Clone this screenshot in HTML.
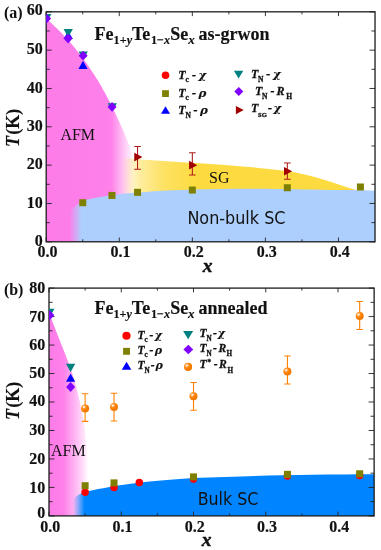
<!DOCTYPE html>
<html lang="en">
<head>
<meta charset="utf-8">
<title>Phase diagrams Fe1+yTe1-xSex</title>
<style>
html,body{margin:0;padding:0;background:#fff;}
body{width:381px;height:550px;overflow:hidden;}
svg{display:block;}
text{white-space:pre;}
</style>
</head>
<body>
<svg width="381" height="550" viewBox="0 0 381 550">
<rect width="381" height="550" fill="#fff"/>
<defs>
<linearGradient id="pinkA" gradientUnits="userSpaceOnUse" x1="46" y1="0" x2="134" y2="0">
<stop offset="0" stop-color="#fd7ce8"/><stop offset="0.74" stop-color="#fe80e9"/><stop offset="0.87" stop-color="#fe80e9" stop-opacity="0.5"/><stop offset="1" stop-color="#fe80e9" stop-opacity="0"/>
</linearGradient>
<linearGradient id="blueA" gradientUnits="userSpaceOnUse" x1="69.5" y1="0" x2="81.5" y2="0">
<stop offset="0" stop-color="#adcffd" stop-opacity="0"/><stop offset="1" stop-color="#adcffd"/>
</linearGradient>
<linearGradient id="yelA" gradientUnits="userSpaceOnUse" x1="120" y1="0" x2="200" y2="0">
<stop offset="0.02" stop-color="#fddb40" stop-opacity="0"/><stop offset="0.25" stop-color="#fddb40" stop-opacity="0.5"/><stop offset="0.55" stop-color="#fddb40" stop-opacity="0.82"/><stop offset="0.95" stop-color="#fddb40"/>
</linearGradient>
<linearGradient id="pinkB" gradientUnits="userSpaceOnUse" x1="49" y1="0" x2="89" y2="0">
<stop offset="0" stop-color="#fd7ce8"/><stop offset="0.36" stop-color="#fe80e9"/><stop offset="0.7" stop-color="#fe80e9" stop-opacity="0.5"/><stop offset="1" stop-color="#fe80e9" stop-opacity="0"/>
</linearGradient>
<linearGradient id="blueB" gradientUnits="userSpaceOnUse" x1="73" y1="0" x2="84.5" y2="0">
<stop offset="0" stop-color="#0084ff" stop-opacity="0"/><stop offset="1" stop-color="#0084ff"/>
</linearGradient>
<radialGradient id="sph" cx="0.36" cy="0.34" r="0.62" fx="0.32" fy="0.3">
<stop offset="0" stop-color="#fff4e4"/><stop offset="0.25" stop-color="#ffa448"/><stop offset="0.6" stop-color="#ff8000"/><stop offset="1" stop-color="#f07800"/>
</radialGradient>
</defs>
<!-- panel a -->
<path d="M46.2 18.6L49.2 21.3L52.2 24.06L55.2 26.9L58.2 29.83L61.2 32.85L64.2 35.98L67.2 39.22L70.2 42.58L73.2 46.06L76.2 49.68L79.2 53.45L82.2 57.37L85.2 61.45L88.2 65.71L91.2 70.14L94.2 74.75L97.2 79.56L100.2 84.58L103.2 89.81L106.2 95.26L109.2 100.93L112.2 106.85L115.2 113.01L118.2 119.42L121.2 126.09L124.2 133.04L127.2 140.26L130.2 147.78L133.2 155.58L136.2 163.7L137 241.8L46.2 241.8Z" fill="url(#pinkA)"/>
<path d="M120 157.09L141.19 159.39C192.34 162.84 243.49 165.52 287.33 170.89C316.56 175.49 338.48 185.07 358.94 190.82L358.94 195.8L120 195.8Z" fill="url(#yelA)"/>
<path d="M67 241.8L67 214.97C72 208.45 77 204.62 82.74 200.79C104.66 195.04 133.88 191.59 192.34 189.5C220 189 240 188.7 255 188.8C285 189 310 189.6 330 189.9L360 190.1L375.02 190.8L375.02 241.8Z" fill="url(#blueA)"/>
<path d="M46.2 241.8v-4.3M46.2 11.82v4.3M119.27 241.8v-4.3M119.27 11.82v4.3M192.34 241.8v-4.3M192.34 11.82v4.3M265.41 241.8v-4.3M265.41 11.82v4.3M338.48 241.8v-4.3M338.48 11.82v4.3M82.74 241.8v-2.5M82.74 11.82v2.5M155.81 241.8v-2.5M155.81 11.82v2.5M228.88 241.8v-2.5M228.88 11.82v2.5M301.94 241.8v-2.5M301.94 11.82v2.5M46.2 241.8h5.5M375.02 241.8h-5.5M46.2 203.47h5.5M375.02 203.47h-5.5M46.2 165.14h5.5M375.02 165.14h-5.5M46.2 126.81h5.5M375.02 126.81h-5.5M46.2 88.48h5.5M375.02 88.48h-5.5M46.2 50.15h5.5M375.02 50.15h-5.5M46.2 11.82h5.5M375.02 11.82h-5.5M46.2 222.64h3.6M375.02 222.64h-3.6M46.2 184.31h3.6M375.02 184.31h-3.6M46.2 145.98h3.6M375.02 145.98h-3.6M46.2 107.65h3.6M375.02 107.65h-3.6M46.2 69.31h3.6M375.02 69.31h-3.6M46.2 30.99h3.6M375.02 30.99h-3.6" stroke="#222" stroke-width="0.9" fill="none"/><rect x="46.2" y="11.82" width="328.82" height="229.98" fill="none" stroke="#1c1c1c" stroke-width="1.3"/>
<g font-family='"Liberation Serif", "DejaVu Serif", serif' font-weight="bold" font-size="16" fill="#111" stroke="#111" stroke-width="0.15"><text x="47.5" y="257.4" text-anchor="middle">0.0</text><text x="120.57" y="257.4" text-anchor="middle">0.1</text><text x="193.64" y="257.4" text-anchor="middle">0.2</text><text x="266.71" y="257.4" text-anchor="middle">0.3</text><text x="339.78" y="257.4" text-anchor="middle">0.4</text><text x="42.7" y="245.51" text-anchor="end">0</text><text x="42.7" y="207.68" text-anchor="end">10</text><text x="42.7" y="169.35" text-anchor="end">20</text><text x="42.7" y="131.02" text-anchor="end">30</text><text x="42.7" y="92.69" text-anchor="end">40</text><text x="42.7" y="54.36" text-anchor="end">50</text><text x="42.7" y="15.33" text-anchor="end">60</text></g>
<clipPath id="clipA"><rect x="46.2" y="11.82" width="328.82" height="229.98"/></clipPath>
<g clip-path="url(#clipA)">
<rect x="79.24" y="199.2" width="7" height="7" fill="#808000"/>
<rect x="108.46" y="191.92" width="7" height="7" fill="#808000"/>
<rect x="134.04" y="188.85" width="7" height="7" fill="#808000"/>
<rect x="188.84" y="186.55" width="7" height="7" fill="#808000"/>
<rect x="283.83" y="184.25" width="7" height="7" fill="#808000"/>
<rect x="356.9" y="183.49" width="7" height="7" fill="#808000"/>
<polygon points="63.55,39.1 72.85,39.1 68.2,30.9" fill="#0000ff"/>
<polygon points="78.35,68.9 87.65,68.9 83,60.7" fill="#0000ff"/>
<polygon points="42.05,14 51.35,14 46.7,22.2" fill="#008080"/>
<polygon points="63.55,29 72.85,29 68.2,37.2" fill="#008080"/>
<polygon points="78.55,51.5 87.85,51.5 83.2,59.7" fill="#008080"/>
<polygon points="107.65,103.3 116.95,103.3 112.3,111.5" fill="#008080"/>
<polygon points="42.1,18.6 46.6,13.7 51.1,18.6 46.6,23.5" fill="#8000ff"/>
<polygon points="63.6,38.6 68.1,33.7 72.6,38.6 68.1,43.5" fill="#8000ff"/>
<polygon points="78.6,55.7 83.1,50.8 87.6,55.7 83.1,60.6" fill="#8000ff"/>
<polygon points="107.55,106.9 112.05,102 116.55,106.9 112.05,111.8" fill="#8000ff"/>
</g>
<path d="M137.54 146.5V169.2M134.24 146.5H140.84M134.24 169.2H140.84" stroke="#b01818" stroke-width="1.05" fill="none"/>
<polygon points="134.24,152.79 134.24,161.39 142.44,157.09" fill="#a00000"/>
<path d="M192.34 152.8V175M189.04 152.8H195.64M189.04 175H195.64" stroke="#b01818" stroke-width="1.05" fill="none"/>
<polygon points="189.04,160.84 189.04,169.44 197.24,165.14" fill="#a00000"/>
<path d="M287.33 163V179.3M284.03 163H290.63M284.03 179.3H290.63" stroke="#b01818" stroke-width="1.05" fill="none"/>
<polygon points="284.03,166.97 284.03,175.57 292.23,171.27" fill="#a00000"/>
<text x="60.4" y="139.6" font-family='"Liberation Serif", "DejaVu Serif", serif' font-size="16" fill="#111">AFM</text>
<text x="209" y="182.6" font-family='"Liberation Serif", "DejaVu Serif", serif' font-size="16" fill="#111">SG</text>
<text x="187.4" y="223.7" font-family='"DejaVu Sans Condensed", "DejaVu Sans", "Liberation Sans", sans-serif' font-size="17.8" font-stretch="condensed" fill="#111">Non-bulk SC</text>
<text x="3.9" y="18.0" font-family='"Liberation Serif", "DejaVu Serif", serif' font-weight="bold" font-size="16" fill="#111">(a)</text>
<text y="39.5" font-family='"Liberation Serif", "DejaVu Serif", serif' font-weight="bold" font-size="18" fill="#111" stroke="#111" stroke-width="0.15"><tspan x="94.6">Fe</tspan><tspan x="113.6" font-size="12.2" dy="4.7">1+<tspan font-style="italic">y</tspan></tspan><tspan x="131.9" dy="-4.7">Te</tspan><tspan x="151" font-size="12.2" dy="4.7">1−<tspan font-style="italic">x</tspan></tspan><tspan x="170.3" dy="-4.7">Se</tspan><tspan x="188.2" font-size="13.0" dy="4.7" font-style="italic">x</tspan><tspan x="198.6" dy="-4.7">as-grwon</tspan></text>
<text transform="translate(19.0 147.0) rotate(-90)" font-family='"Liberation Serif", "DejaVu Serif", serif' font-weight="bold" font-size="18" fill="#111" stroke="#111" stroke-width="0.15"><tspan font-style="italic">T</tspan><tspan dx="1.2">(K)</tspan></text>
<text x="207.7" y="271.6" text-anchor="middle" font-family='"Liberation Serif", "DejaVu Serif", serif' font-weight="bold" font-style="italic" font-size="19.6" fill="#111" stroke="#111" stroke-width="0.45">x</text>
<circle cx="165.55" cy="75.3" r="3.8" fill="#ff0000"/>
<rect x="162.1" y="90.2" width="6.8" height="6.8" fill="#808000"/>
<polygon points="161,113.7 170,113.7 165.5,106.3" fill="#0000ff"/>
<text y="79.3" font-family='"Liberation Serif", "DejaVu Serif", serif' font-weight="bold" font-style="italic" font-size="12" fill="#111" stroke="#111" stroke-width="0.3"><tspan x="178.3">T</tspan><tspan x="185.5" font-size="7.5" dy="2.6" font-style="normal">c</tspan><tspan x="192" dy="-2.6">-</tspan><tspan x="198.6" font-size="11.8" font-family='"DejaVu Serif", "Liberation Serif", serif' stroke-width="0.1">χ</tspan></text>
<text y="97" font-family='"Liberation Serif", "DejaVu Serif", serif' font-weight="bold" font-style="italic" font-size="12" fill="#111" stroke="#111" stroke-width="0.3"><tspan x="178.3">T</tspan><tspan x="185.5" font-size="7.5" dy="2.6" font-style="normal">c</tspan><tspan x="192" dy="-2.6">-</tspan><tspan x="198.6" font-size="11.8" font-family='"DejaVu Serif", "Liberation Serif", serif' stroke-width="0.1">ρ</tspan></text>
<text y="114.4" font-family='"Liberation Serif", "DejaVu Serif", serif' font-weight="bold" font-style="italic" font-size="12" fill="#111" stroke="#111" stroke-width="0.3"><tspan x="178.3">T</tspan><tspan x="185.5" font-size="7.5" dy="3.9" font-style="normal">N</tspan><tspan x="193.4" dy="-3.9">-</tspan><tspan x="200" font-size="11.8" font-family='"DejaVu Serif", "Liberation Serif", serif' stroke-width="0.1">ρ</tspan></text>
<polygon points="233.9,70.7 243.3,70.7 238.6,78.5" fill="#008080"/>
<polygon points="234.3,91.5 238.8,87.1 243.3,91.5 238.8,95.9" fill="#8000ff"/>
<polygon points="235.9,105.9 235.9,114.3 243.7,110.1" fill="#a00000"/>
<text y="77.6" font-family='"Liberation Serif", "DejaVu Serif", serif' font-weight="bold" font-style="italic" font-size="12" fill="#111" stroke="#111" stroke-width="0.3"><tspan x="250.9">T</tspan><tspan x="258.1" font-size="7.5" dy="3.9" font-style="normal">N</tspan><tspan x="266.2" dy="-3.9">-</tspan><tspan x="273" font-size="11.8" font-family='"DejaVu Serif", "Liberation Serif", serif' stroke-width="0.1">χ</tspan></text>
<text y="94.7" font-family='"Liberation Serif", "DejaVu Serif", serif' font-weight="bold" font-style="italic" font-size="12" fill="#111" stroke="#111" stroke-width="0.3"><tspan x="254.9">T</tspan><tspan x="262.1" font-size="7.5" dy="3.9" font-style="normal">N</tspan><tspan x="270.5" dy="-3.9">-</tspan><tspan x="276.6">R</tspan><tspan x="286.2" font-size="7.5" dy="4.3" font-style="normal">H</tspan></text>
<text y="112.2" font-family='"Liberation Serif", "DejaVu Serif", serif' font-weight="bold" font-style="italic" font-size="12" fill="#111" stroke="#111" stroke-width="0.3"><tspan x="250.9">T</tspan><tspan x="258.1" font-size="6.6" dy="4.9" font-style="normal">SG</tspan><tspan x="267.9" dy="-4.9">-</tspan><tspan x="273.6" font-size="11.8" font-family='"DejaVu Serif", "Liberation Serif", serif' stroke-width="0.1">χ</tspan></text>
<!-- panel b -->
<path d="M49 312.5C57 334 65 353 69.7 365.6C75 381 80 400 83.5 420C85.5 432 87 445 87.5 460L87.5 515.9L49 515.9Z" fill="url(#pinkB)"/>
<path d="M71 515.9L71 501.09C76 495.97 80 493.4 85.12 491.98C106.8 486.86 135.7 481.73 193.5 478.03C251.3 475.47 309.1 474.61 374.12 474.33L374.12 515.9Z" fill="url(#blueB)"/>
<path d="M49 515.9v-4.3M49 288.1v4.3M121.25 515.9v-4.3M121.25 288.1v4.3M193.5 515.9v-4.3M193.5 288.1v4.3M265.75 515.9v-4.3M265.75 288.1v4.3M338 515.9v-4.3M338 288.1v4.3M85.12 515.9v-2.5M85.12 288.1v2.5M157.38 515.9v-2.5M157.38 288.1v2.5M229.62 515.9v-2.5M229.62 288.1v2.5M301.88 515.9v-2.5M301.88 288.1v2.5M49 515.9h5.5M374.12 515.9h-5.5M49 487.42h5.5M374.12 487.42h-5.5M49 458.95h5.5M374.12 458.95h-5.5M49 430.47h5.5M374.12 430.47h-5.5M49 402h5.5M374.12 402h-5.5M49 373.52h5.5M374.12 373.52h-5.5M49 345.05h5.5M374.12 345.05h-5.5M49 316.57h5.5M374.12 316.57h-5.5M49 288.1h5.5M374.12 288.1h-5.5M49 501.66h3.6M374.12 501.66h-3.6M49 473.19h3.6M374.12 473.19h-3.6M49 444.71h3.6M374.12 444.71h-3.6M49 416.24h3.6M374.12 416.24h-3.6M49 387.76h3.6M374.12 387.76h-3.6M49 359.29h3.6M374.12 359.29h-3.6M49 330.81h3.6M374.12 330.81h-3.6M49 302.34h3.6M374.12 302.34h-3.6" stroke="#222" stroke-width="0.9" fill="none"/><rect x="49" y="288.1" width="325.12" height="227.8" fill="none" stroke="#1c1c1c" stroke-width="1.3"/>
<g font-family='"Liberation Serif", "DejaVu Serif", serif' font-weight="bold" font-size="16" fill="#111" stroke="#111" stroke-width="0.15"><text x="50.3" y="531.7" text-anchor="middle">0.0</text><text x="122.55" y="531.7" text-anchor="middle">0.1</text><text x="194.8" y="531.7" text-anchor="middle">0.2</text><text x="267.05" y="531.7" text-anchor="middle">0.3</text><text x="339.3" y="531.7" text-anchor="middle">0.4</text><text x="45.3" y="517.91" text-anchor="end">0</text><text x="45.3" y="492.83" text-anchor="end">10</text><text x="45.3" y="463.86" text-anchor="end">20</text><text x="45.3" y="434.88" text-anchor="end">30</text><text x="45.3" y="406.41" text-anchor="end">40</text><text x="45.3" y="377.93" text-anchor="end">50</text><text x="45.3" y="349.96" text-anchor="end">60</text><text x="45.3" y="322.18" text-anchor="end">70</text><text x="45.3" y="292.81" text-anchor="end">80</text></g>
<clipPath id="clipB"><rect x="49" y="288.1" width="325.12" height="227.8"/></clipPath>
<g clip-path="url(#clipB)">
<circle cx="85.12" cy="492.27" r="3.75" fill="#ff0000"/>
<circle cx="114.02" cy="487.42" r="3.75" fill="#ff0000"/>
<circle cx="139.31" cy="482.58" r="3.75" fill="#ff0000"/>
<circle cx="193.5" cy="478.88" r="3.75" fill="#ff0000"/>
<circle cx="287.43" cy="476.03" r="3.75" fill="#ff0000"/>
<circle cx="359.68" cy="475.47" r="3.75" fill="#ff0000"/>
<rect x="81.62" y="482.22" width="7" height="7" fill="#808000"/>
<rect x="110.52" y="479.37" width="7" height="7" fill="#808000"/>
<rect x="190" y="473.39" width="7" height="7" fill="#808000"/>
<rect x="283.93" y="470.83" width="7" height="7" fill="#808000"/>
<rect x="356.18" y="470.26" width="7" height="7" fill="#808000"/>
<polygon points="65.95,381.7 75.25,381.7 70.6,373.5" fill="#0000ff"/>
<polygon points="45.15,308.7 54.45,308.7 49.8,316.9" fill="#008080"/>
<polygon points="65.95,363.7 75.25,363.7 70.6,371.9" fill="#008080"/>
<polygon points="45.3,315.2 49.8,310.3 54.3,315.2 49.8,320.1" fill="#8000ff"/>
<polygon points="66.1,387 70.6,382.1 75.1,387 70.6,391.9" fill="#8000ff"/>
</g>
<path d="M85.12 393.7V421.4M81.92 393.7H88.33M81.92 421.4H88.33" stroke="#ff8000" stroke-width="1.1" fill="none"/>
<circle cx="85.12" cy="408.4" r="4" fill="url(#sph)"/><ellipse cx="84.08" cy="407.05" rx="1.35" ry="0.85" transform="rotate(-28 84.08 407.05)" fill="#fff" fill-opacity="0.7"/>
<path d="M114.02 393.2V421M110.82 393.2H117.22M110.82 421H117.22" stroke="#ff8000" stroke-width="1.1" fill="none"/>
<circle cx="114.02" cy="406.9" r="4" fill="url(#sph)"/><ellipse cx="112.97" cy="405.55" rx="1.35" ry="0.85" transform="rotate(-28 112.97 405.55)" fill="#fff" fill-opacity="0.7"/>
<path d="M193.5 382.5V410.2M190.3 382.5H196.7M190.3 410.2H196.7" stroke="#ff8000" stroke-width="1.1" fill="none"/>
<circle cx="193.5" cy="396.3" r="4" fill="url(#sph)"/><ellipse cx="192.45" cy="394.95" rx="1.35" ry="0.85" transform="rotate(-28 192.45 394.95)" fill="#fff" fill-opacity="0.7"/>
<path d="M287.43 356V384M284.23 356H290.62M284.23 384H290.62" stroke="#ff8000" stroke-width="1.1" fill="none"/>
<circle cx="287.43" cy="371.5" r="4" fill="url(#sph)"/><ellipse cx="286.38" cy="370.15" rx="1.35" ry="0.85" transform="rotate(-28 286.38 370.15)" fill="#fff" fill-opacity="0.7"/>
<path d="M359.68 301.5V329.5M356.48 301.5H362.88M356.48 329.5H362.88" stroke="#ff8000" stroke-width="1.1" fill="none"/>
<circle cx="359.68" cy="316" r="4" fill="url(#sph)"/><ellipse cx="358.62" cy="314.65" rx="1.35" ry="0.85" transform="rotate(-28 358.62 314.65)" fill="#fff" fill-opacity="0.7"/>
<text x="51" y="456" font-family='"Liberation Serif", "DejaVu Serif", serif' font-size="16" fill="#111">AFM</text>
<text x="197.7" y="505" font-family='"DejaVu Sans Condensed", "DejaVu Sans", "Liberation Sans", sans-serif' font-size="16.8" font-stretch="condensed" textLength="60.6" lengthAdjust="spacingAndGlyphs" fill="#111">Bulk SC</text>
<text x="3.9" y="295.2" font-family='"Liberation Serif", "DejaVu Serif", serif' font-weight="bold" font-size="16" fill="#111">(b)</text>
<text y="313.7" font-family='"Liberation Serif", "DejaVu Serif", serif' font-weight="bold" font-size="18" fill="#111" stroke="#111" stroke-width="0.15"><tspan x="94.5">Fe</tspan><tspan x="113.5" font-size="12.2" dy="4.7">1+<tspan font-style="italic">y</tspan></tspan><tspan x="131.8" dy="-4.7">Te</tspan><tspan x="150.9" font-size="12.2" dy="4.7">1−<tspan font-style="italic">x</tspan></tspan><tspan x="170.2" dy="-4.7">Se</tspan><tspan x="188.1" font-size="13.0" dy="4.7" font-style="italic">x</tspan><tspan x="198.5" dy="-4.7">annealed</tspan></text>
<text transform="translate(19.4 420.0) rotate(-90)" font-family='"Liberation Serif", "DejaVu Serif", serif' font-weight="bold" font-size="18" fill="#111" stroke="#111" stroke-width="0.15"><tspan font-style="italic">T</tspan><tspan dx="1.2">(K)</tspan></text>
<text x="206.7" y="546.4" text-anchor="middle" font-family='"Liberation Serif", "DejaVu Serif", serif' font-weight="bold" font-style="italic" font-size="19.6" fill="#111" stroke="#111" stroke-width="0.45">x</text>
<circle cx="126.5" cy="335.75" r="4.1" fill="#ff0000"/>
<rect x="123.1" y="347.85" width="6.9" height="6.9" fill="#808000"/>
<polygon points="121.75,369.8 131.35,369.8 126.55,361.8" fill="#0000ff"/>
<text y="339.1" font-family='"Liberation Serif", "DejaVu Serif", serif' font-weight="bold" font-style="italic" font-size="11.6" fill="#111" stroke="#111" stroke-width="0.3"><tspan x="137.6">T</tspan><tspan x="144.56" font-size="7.2" dy="2.6" font-style="normal">c</tspan><tspan x="149.6" dy="-2.6">-</tspan><tspan x="154.7" font-size="11" font-family='"DejaVu Serif", "Liberation Serif", serif' stroke-width="0.1">χ</tspan></text>
<text y="354.1" font-family='"Liberation Serif", "DejaVu Serif", serif' font-weight="bold" font-style="italic" font-size="11.6" fill="#111" stroke="#111" stroke-width="0.3"><tspan x="137.6">T</tspan><tspan x="144.56" font-size="7.2" dy="2.6" font-style="normal">c</tspan><tspan x="149.6" dy="-2.6">-</tspan><tspan x="154.8" font-size="11" font-family='"DejaVu Serif", "Liberation Serif", serif' stroke-width="0.1">ρ</tspan></text>
<text y="369.1" font-family='"Liberation Serif", "DejaVu Serif", serif' font-weight="bold" font-style="italic" font-size="11.6" fill="#111" stroke="#111" stroke-width="0.3"><tspan x="137.6">T</tspan><tspan x="144.56" font-size="7.2" dy="3.9" font-style="normal">N</tspan><tspan x="150.7" dy="-3.9">-</tspan><tspan x="155.5" font-size="11" font-family='"DejaVu Serif", "Liberation Serif", serif' stroke-width="0.1">ρ</tspan></text>
<polygon points="183.15,331.1 193.15,331.1 188.15,339.3" fill="#008080"/>
<polygon points="183.4,349.5 188.3,344.8 193.2,349.5 188.3,354.2" fill="#8000ff"/>
<circle cx="188.1" cy="366.9" r="4.05" fill="url(#sph)"/><ellipse cx="187.05" cy="365.55" rx="1.35" ry="0.85" transform="rotate(-28 187.05 365.55)" fill="#fff" fill-opacity="0.7"/>
<text y="336.9" font-family='"Liberation Serif", "DejaVu Serif", serif' font-weight="bold" font-style="italic" font-size="11.6" fill="#111" stroke="#111" stroke-width="0.3"><tspan x="199.5">T</tspan><tspan x="206.46" font-size="7.2" dy="3.9" font-style="normal">N</tspan><tspan x="213.1" dy="-3.9">-</tspan><tspan x="217.8" font-size="11" font-family='"DejaVu Serif", "Liberation Serif", serif' stroke-width="0.1">χ</tspan></text>
<text y="351.7" font-family='"Liberation Serif", "DejaVu Serif", serif' font-weight="bold" font-style="italic" font-size="11.6" fill="#111" stroke="#111" stroke-width="0.3"><tspan x="199.5">T</tspan><tspan x="206.46" font-size="7.2" dy="3.9" font-style="normal">N</tspan><tspan x="213.1" dy="-3.9">-</tspan><tspan x="218.4">R</tspan><tspan x="226.6" font-size="7.2" dy="4.3" font-style="normal">H</tspan></text>
<text y="368.2" font-family='"Liberation Serif", "DejaVu Serif", serif' font-weight="bold" font-style="italic" font-size="11.6" fill="#111" stroke="#111" stroke-width="0.3"><tspan x="199.5">T</tspan><tspan x="207.2" font-size="8" dy="-3.2" font-style="normal">*</tspan><tspan x="213.7" dy="3.2">-</tspan><tspan x="219">R</tspan><tspan x="227.4" font-size="7.2" dy="4.3" font-style="normal">H</tspan></text>
</svg>
</body>
</html>
